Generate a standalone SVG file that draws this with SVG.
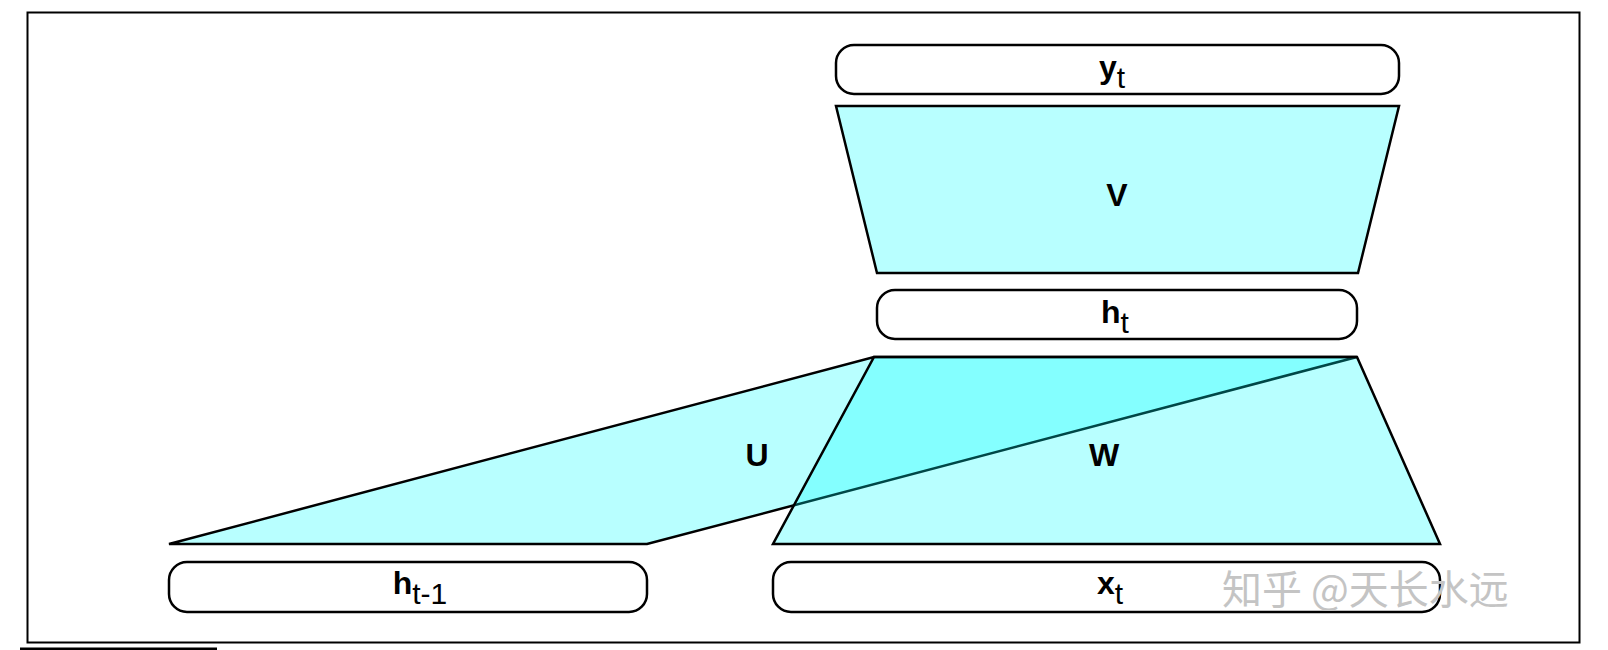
<svg xmlns="http://www.w3.org/2000/svg" width="1608" height="650" viewBox="0 0 1608 650">
<style>
.box{fill:#fff;stroke:#000;stroke-width:2.5}
.trap{fill:#00ffff;fill-opacity:0.28;stroke:#000;stroke-width:2.5}
.lbl{font-family:"Liberation Sans",Arial,sans-serif;font-weight:bold;font-size:32px;text-anchor:middle}
.sub{font-weight:normal;font-size:30px}
</style>
<rect width="1608" height="650" fill="#fff"/>
<rect x="27.5" y="12.5" width="1552" height="630" fill="none" stroke="#000" stroke-width="2"/>
<line x1="20" y1="649" x2="217" y2="649" stroke="#000" stroke-width="3"/>
<g id="U"><polygon class="trap" points="169,544 647,544 1357,357 874,357"/><text class="lbl" x="757" y="466">U</text></g>
<g id="W"><polygon class="trap" points="874,357 1357,357 1440,544 773,544"/><text class="lbl" x="1104" y="466">W</text></g>
<g id="V"><polygon class="trap" points="836,106 1399,106 1358,273 877,273"/><text class="lbl" x="1117" y="206">V</text></g>
<g id="yt"><rect class="box" x="836" y="45" width="563" height="49" rx="18"/><text class="lbl" x="1112" y="78">y<tspan class="sub" dy="10">t</tspan></text></g>
<g id="ht"><rect class="box" x="877" y="290" width="480" height="49" rx="18"/><text class="lbl" x="1115" y="323">h<tspan class="sub" dy="10">t</tspan></text></g>
<g id="htm1"><rect class="box" x="169" y="562" width="478" height="50" rx="18"/><text class="lbl" x="420" y="594">h<tspan class="sub" dy="10">t-1</tspan></text></g>
<g id="xt"><rect class="box" x="773" y="562" width="667" height="50" rx="18"/><text class="lbl" x="1110" y="594">x<tspan class="sub" dy="10">t</tspan></text></g>
<g id="connectors"/>
<text x="1222" y="604" font-family="'Noto Sans CJK SC',sans-serif" font-size="40" fill="#c4c4c4">知乎 @天长水远</text>
</svg>
